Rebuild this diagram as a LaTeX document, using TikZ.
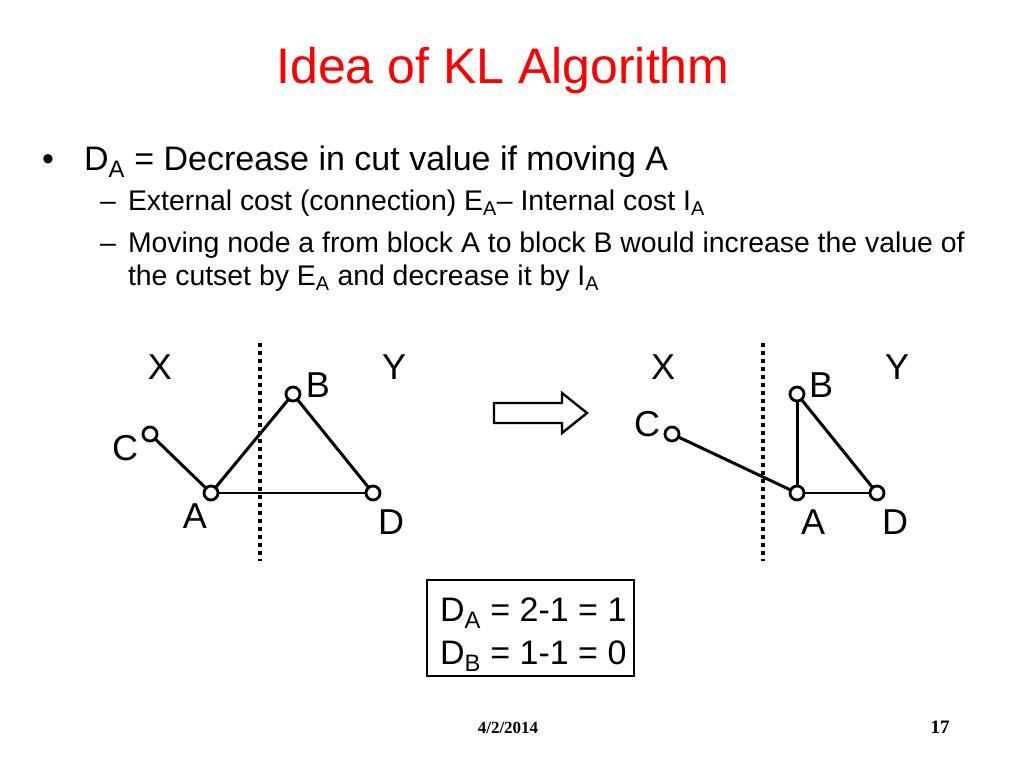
\documentclass[tikz,border=0pt]{standalone}
\usepackage{fontspec}
\setmainfont{Liberation Sans}
\newfontfamily\footfont{Liberation Serif}
\usepackage{xcolor}
\usepackage{tikz}
\usetikzlibrary{calc}
\usetikzlibrary{positioning}
\definecolor{titlered}{RGB}{255,0,0}

\begin{document}
\begin{tikzpicture}[x=1pt,y=-1pt,-,auto,semithick]
  \tikzstyle{every node}=[inner sep=0pt, outer sep=0pt]
  \tikzstyle{vert}=[circle, draw=black, fill=white, line width=2.8pt, minimum size=14pt]
  \tikzstyle{lbl}=[font=\fontsize{36}{40}\selectfont]
  \tikzstyle{heavy}=[line width=3pt]
  \tikzstyle{light}=[line width=2pt]
  \tikzstyle{cutline}=[line width=4pt, dash pattern=on 4pt off 4pt]
  \tikzstyle{bigtxt}=[anchor=base west, font=\fontsize{34}{40}\selectfont]
  \tikzstyle{smalltxt}=[anchor=base west, font=\fontsize{28.4}{32}\selectfont]
  \useasboundingbox[fill=white] (0,0) rectangle (1024,768);

  % title and bullets
  \node[text=titlered, anchor=base, font=\fontsize{50}{56}\selectfont] (title) at (503,83) {Idea of KL Algorithm};
  \node[bigtxt] (dot1) at (42,170) {•};
  \node[bigtxt] (line1) at (84,170) {D\textsubscript{A} = Decrease in cut value if moving A};
  \node[smalltxt] (dash1) at (100,210) {–};
  \node[smalltxt] (line2) at (128,210) {External cost (connection) E\textsubscript{A}– Internal cost I\textsubscript{A}};
  \node[smalltxt] (dash2) at (100,252) {–};
  \node[smalltxt] (line3) at (128,252) {Moving node a from block A to block B would increase the value of};
  \node[smalltxt] (line4) at (128,285) {the cutset by E\textsubscript{A} and decrease it by I\textsubscript{A}};

  % before the move
  \node[lbl] (x1) at (160,367) {X};
  \node[lbl] (y1) at (394,367) {Y};
  \node[vert] (C1) at (150,434) {};
  \node[vert] (A1) at (211,493) {};
  \node[vert] (B1) at (293,394) {};
  \node[vert] (D1) at (373,493) {};
  \node[lbl] (lc1) at (125,448) {C};
  \node[lbl] (la1) at (195,516) {A};
  \node[lbl] (lb1) at (318,385) {B};
  \node[lbl] (ld1) at (391,522) {D};
  \path[heavy]
    (C1) edge (A1)
    (A1) edge (B1)
    (B1) edge (D1);
  \path[light] (A1) edge (D1);
  \coordinate (cuttop1) at (260,343);
  \coordinate (cutbot1) at (260,561);
  \draw[cutline] (cuttop1) -- (cutbot1);

  % block arrow
  \coordinate (ar0) at (494,403);
  \draw[line width=2.4pt, line join=miter] (ar0) -- ++(68,0) -- ++(0,-10) -- ++(25,20)
    -- ++(-25,20) -- ++(0,-10) -- ++(-68,0) -- cycle;

  % after the move
  \node[lbl] (x2) at (663,367) {X};
  \node[lbl] (y2) at (897,367) {Y};
  \node[vert] (C2) at (672,434) {};
  \node[vert] (A2) at (797,493) {};
  \node[vert] (B2) at (797,394) {};
  \node[vert] (D2) at (877,493) {};
  \node[lbl] (lc2) at (647,424) {C};
  \node[lbl] (la2) at (813,522) {A};
  \node[lbl] (lb2) at (821,385) {B};
  \node[lbl] (ld2) at (895,522) {D};
  \path[heavy]
    (C2) edge (A2)
    (A2) edge (B2)
    (B2) edge (D2);
  \path[light] (A2) edge (D2);
  \coordinate (cuttop2) at (763,343);
  \coordinate (cutbot2) at (763,561);
  \draw[cutline] (cuttop2) -- (cutbot2);

  % gains
  \node[draw, line width=2pt, minimum width=207pt, minimum height=96pt] (gainbox) at (530.5,627.5) {};
  \node[anchor=base west, font=\fontsize{34}{40}\selectfont] (gainA) at (440,621) {D\textsubscript{A} = 2-1 = 1};
  \node[anchor=base west, font=\fontsize{34}{40}\selectfont] (gainB) at (440,664) {D\textsubscript{B} = 1-1 = 0};

  % footer
  \node[anchor=base, font=\footfont\bfseries\fontsize{17}{20}\selectfont] (date) at (508,733) {4/2/2014};
  \node[anchor=base, font=\footfont\bfseries\fontsize{19}{22}\selectfont] (page) at (940,733) {17};
\end{tikzpicture}
\end{document}
